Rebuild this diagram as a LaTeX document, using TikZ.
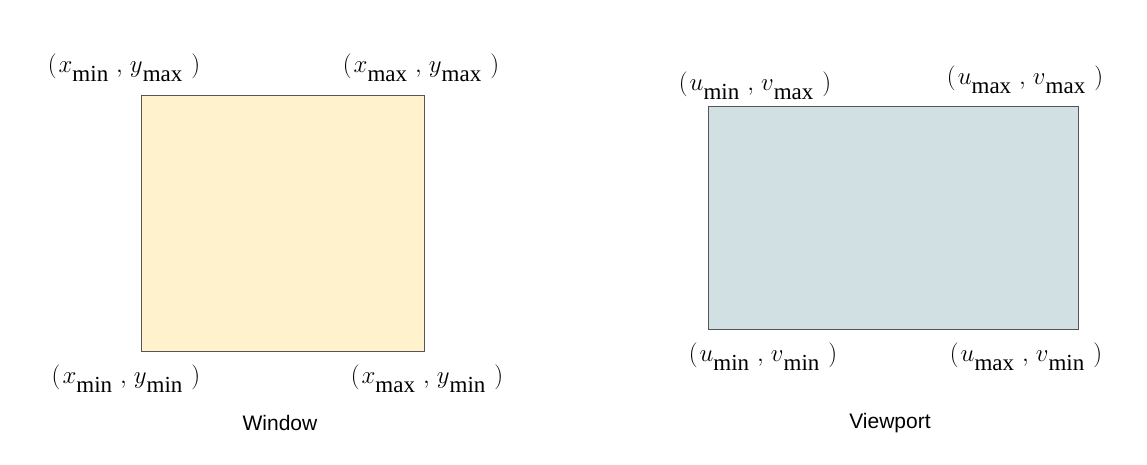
\documentclass[tikz,border=0pt]{standalone}
\usepackage{fontspec}
\newfontfamily\labelfont{Liberation Sans}
\newfontfamily\subfont{Liberation Serif}
\definecolor{winfill}{HTML}{FFF2CC}
\definecolor{vpfill}{HTML}{D0E0E3}
\definecolor{edge}{HTML}{555555}
\newcommand\cornerlabel[4]{%
  $($\hspace{2pt}$#1$\raisebox{-9pt}{\subfont\fontsize{23}{25}\selectfont #2}\hspace{8pt}$,$\hspace{7pt}%
  $#3$\raisebox{-9pt}{\subfont\fontsize{23}{25}\selectfont #4}\hspace{9pt}$)$}
\begin{document}
\begin{tikzpicture}[x=1pt,y=-1pt,
  region/.style={draw=edge,line width=1pt},
  coord/.style={inner sep=0pt,font=\fontsize{42}{48}\selectfont},
  caption/.style={inner sep=0pt,font=\labelfont\fontsize{21}{24}\selectfont}]
\useasboundingbox (0,0) rectangle (1147,464);
\fill[white] (0,0) rectangle (1147,464);
\node[region,fill=winfill,minimum width=283pt,minimum height=256pt,anchor=north west] (win) at (141,95) {};
\node[region,fill=vpfill,minimum width=370pt,minimum height=223pt,anchor=north west] (vp) at (708,106) {};
\node[coord] (w1) at (124,68) {\cornerlabel{x}{min}{y}{max}};
\node[coord] (w2) at (421,68) {\cornerlabel{x}{max}{y}{max}};
\node[coord] (w3) at (126,379) {\cornerlabel{x}{min}{y}{min}};
\node[coord] (w4) at (427,379) {\cornerlabel{x}{max}{y}{min}};
\node[coord] (v1) at (755,86) {\cornerlabel{u}{min}{v}{max}};
\node[coord] (v2) at (1025,80) {\cornerlabel{u}{max}{v}{max}};
\node[coord] (v3) at (763,357) {\cornerlabel{u}{min}{v}{min}};
\node[coord] (v4) at (1026,357) {\cornerlabel{u}{max}{v}{min}};
\node[caption] (wl) at (280,423) {Window};
\node[caption] (vl) at (890,423) {Viewport};
\end{tikzpicture}
\end{document}
